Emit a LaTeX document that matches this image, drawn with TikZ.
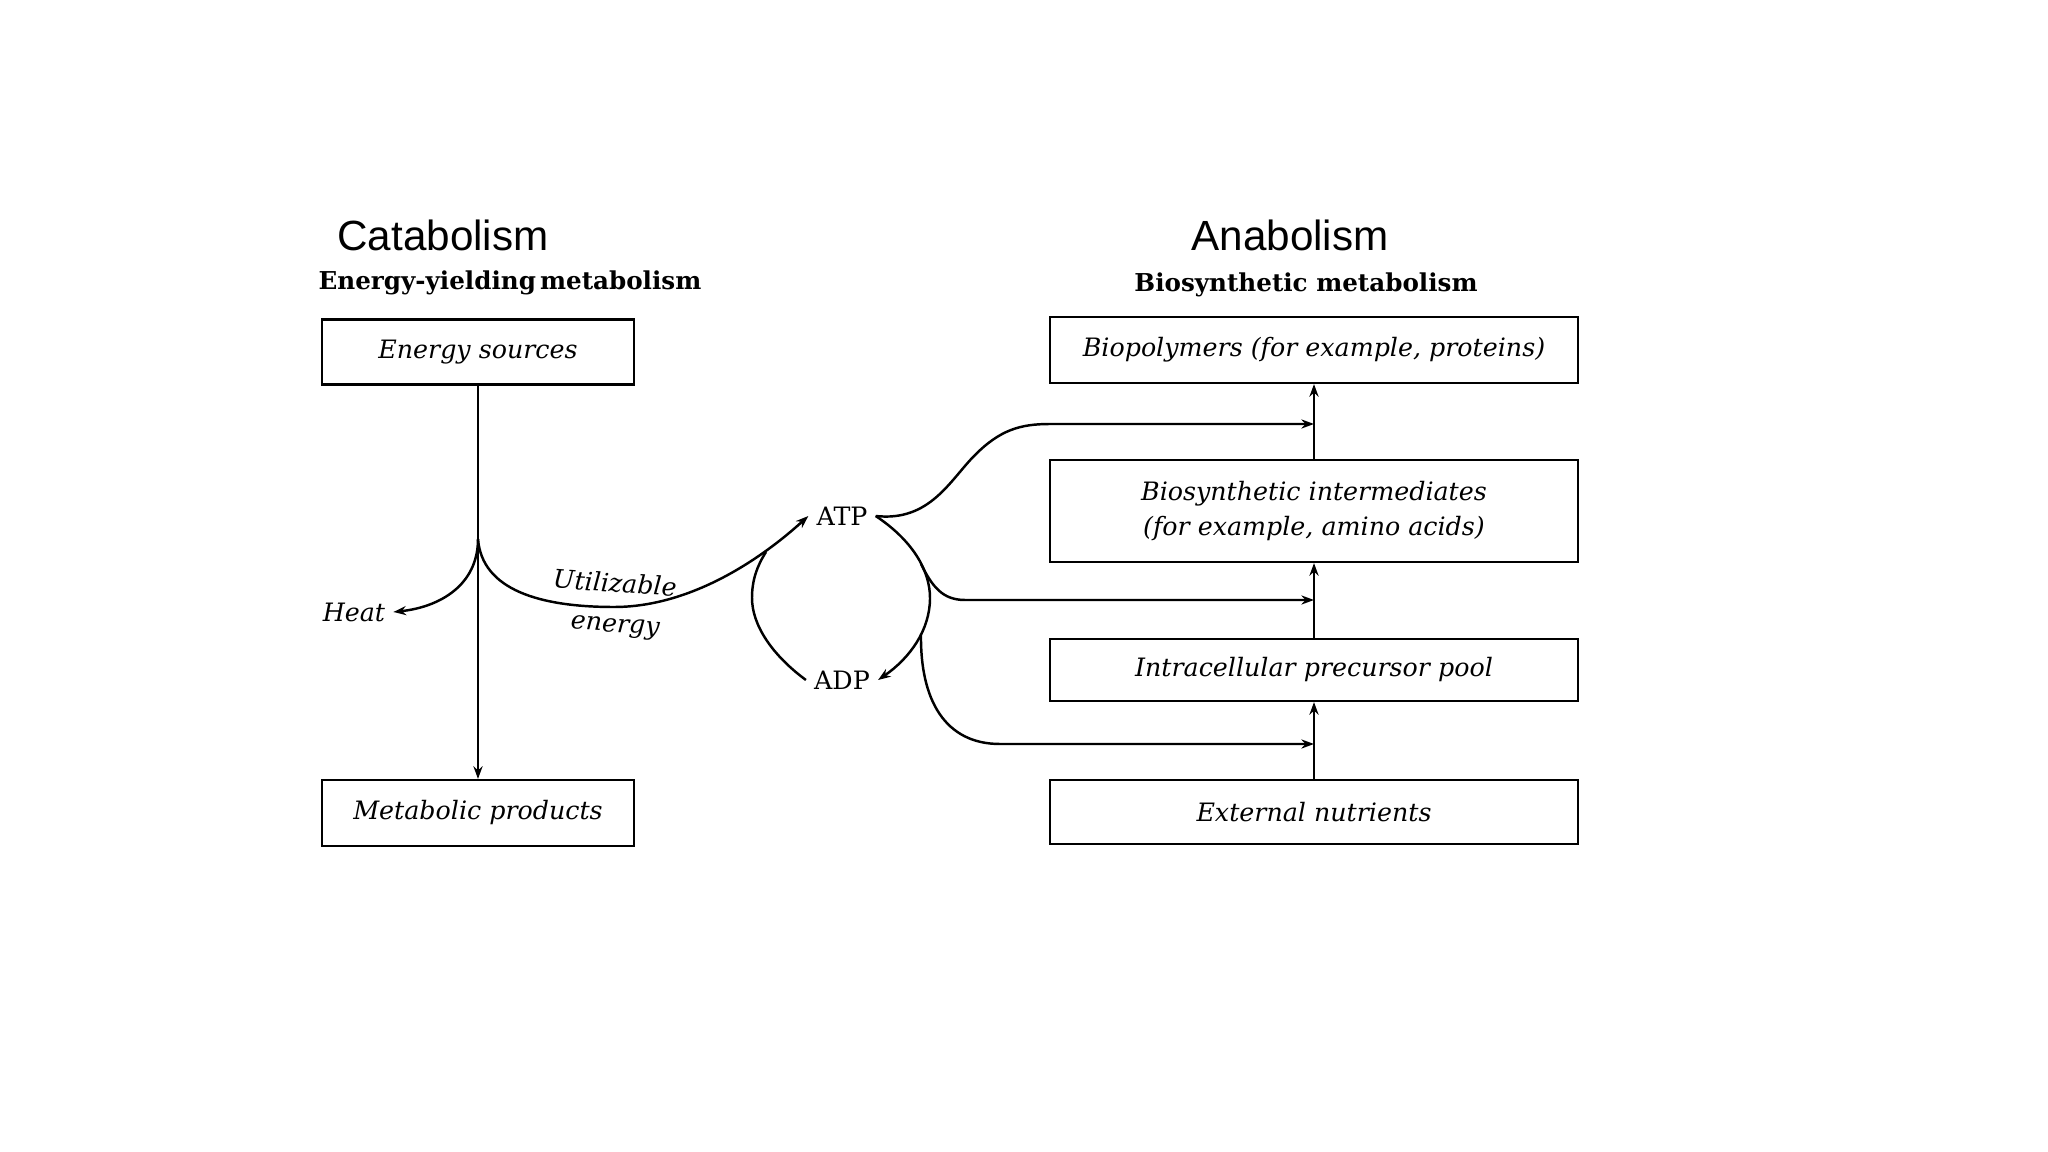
\documentclass[tikz,border=0pt]{standalone}
\usepackage{fontspec}
\setmainfont{DejaVu Serif}
\newfontfamily\headfont{Liberation Sans}
\usetikzlibrary{arrows.meta}
\begin{document}
\begin{tikzpicture}[x=0.01cm,y=-0.01cm,
  line width=0.7pt,
  boxtxt/.style={font=\fontsize{7.2pt}{9pt}\selectfont\itshape},
  box/.style={draw, line width=0.6pt, inner sep=0pt, align=center, boxtxt},
  lbox/.style={box, minimum width=3.12cm, minimum height=0.65cm},
  rbox/.style={box, minimum width=5.28cm},
  head/.style={font=\headfont\fontsize{12pt}{14pt}\selectfont},
  sub/.style={font=\fontsize{7pt}{9pt}\selectfont\bfseries},
  lab/.style={inner sep=2pt, boxtxt},
  arr/.style={-{Stealth[length=3.6pt,width=2.6pt]}}]
\fill[white] (0,0) rectangle (2048,1152);
\useasboundingbox (0,0) rectangle (2048,1152);

% headings
\node[head] (cat) at (443,235) {Catabolism};
\node[head] (ana) at (1290,235) {Anabolism};
\node[sub] (catsub) at (510,283) {Energy-yielding\,metabolism};
\node[sub] (anasub) at (1306,285) {Biosynthetic metabolism};

% left boxes
\node[lbox] (es) at (478,352) {Energy sources};
\node[lbox, minimum height=0.66cm] (mp) at (478,813) {Metabolic products};

% right boxes
\node[rbox, minimum height=0.66cm] (bp) at (1314,350) {Biopolymers (for example, proteins)};
\node[rbox, minimum height=1.02cm] (bi) at (1314,511) {Biosynthetic intermediates\\[1pt](for example, amino acids)};
\node[rbox, minimum height=0.62cm] (ip) at (1314,670) {Intracellular precursor pool};
\node[rbox, minimum height=0.64cm] (en) at (1314,812) {External nutrients};

% labels
\node[lab] (heat) at (354,612) {Heat};
\node[lab, font=\fontsize{7.2pt}{9pt}\selectfont] (atp) at (842,516) {ATP};
\node[lab, font=\fontsize{7.2pt}{9pt}\selectfont] (adp) at (842,680) {ADP};
\node[lab, rotate=-4] (util) at (615,583) {Utilizable};
\node[lab, rotate=-4] (energy) at (615,628) {energy};

% coordinates
\coordinate (B) at (478,539);
\coordinate (j1) at (1314,424);
\coordinate (j2) at (1314,600);
\coordinate (j3) at (1314,744);

% catabolism flows
\draw[arr] (es.south) -- (mp.north);
\draw[arr] (B) .. controls (478,585) and (440,607) .. (heat.east);
\draw[arr] (B) .. controls (482,590) and (540,607) .. (614,607)
  .. controls (690,607) and (760,560) .. (atp.west);

% ATP/ADP cycle
\draw (adp.west) .. controls (772,655) and (752,625) .. (752,598)
  .. controls (752,580) and (757,566) .. (766,552);
\draw[arr] (atp.east) .. controls (912,540) and (930,570) .. (930,598)
  .. controls (930,630) and (910,658) .. (adp.east);

% to anabolism
\draw[arr] (atp.east) .. controls (930,522) and (950,480) .. (975,455)
  .. controls (1000,430) and (1020,424) .. (1050,424) -- (j1);
\draw[arr] (921,564) .. controls (932,586) and (942,600) .. (965,600) -- (j2);
\draw[arr] (921,634) .. controls (920,700) and (945,744) .. (1000,744) -- (j3);

% anabolism chain
\draw[arr] (en.north) -- (ip.south);
\draw[arr] (ip.north) -- (bi.south);
\draw[arr] (bi.north) -- (bp.south);
\end{tikzpicture}
\end{document}
